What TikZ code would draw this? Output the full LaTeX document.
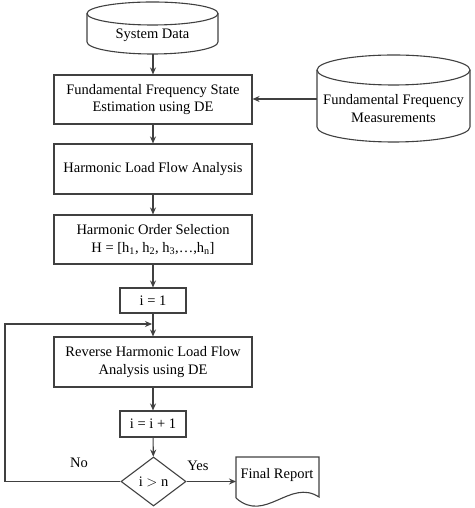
\documentclass[tikz,border=0pt]{standalone}
\usepackage{fontspec}
\setmainfont{Liberation Serif}
\usetikzlibrary{arrows.meta,shapes.geometric}
\definecolor{ln}{HTML}{404040}
\begin{document}
\begin{tikzpicture}[x=1pt,y=1pt,
  every node/.style={font=\fontsize{14.5}{17.5}\selectfont, text=black},
  proc/.style={draw=ln, line width=1.1pt, rectangle, inner sep=0pt, align=center},
  lbl/.style={align=center, inner sep=0pt},
  arr/.style={draw=ln, line width=1.1pt, -{Stealth[length=7pt,width=6pt]}},
  ln/.style={draw=ln, line width=1.1pt}]
\useasboundingbox (0,0) rectangle (474,508);
% System Data cylinder
\draw[ln] (152.5,494.5) ellipse[x radius=65.5, y radius=11.5];
\draw[ln] (87,494.5) -- (87,466) arc[start angle=180, end angle=360, x radius=65.5, y radius=12] -- (218,494.5);
\node[lbl] (sd) at (152.5,473) {System Data};
\coordinate (sdb) at (153,454);
% Measurements cylinder
\draw[ln] (393.5,438) ellipse[x radius=76.5, y radius=15];
\draw[ln] (317,438) -- (317,381) arc[start angle=180, end angle=360, x radius=76.5, y radius=15] -- (470,438);
\node[lbl] (meas) at (393.5,399.5) {Fundamental Frequency\\Measurements};
\coordinate (measl) at (317,409);
% boxes
\node[proc, minimum width=198pt, minimum height=49pt] (b1) at (153,408.5) {Fundamental Frequency State\\Estimation using DE};
\node[proc, minimum width=198pt, minimum height=50pt] (b2) at (153,339) {Harmonic Load Flow Analysis};
\node[proc, minimum width=198pt, minimum height=49pt] (b3) at (153,268.5) {Harmonic Order Selection\\H = [h\textsubscript{1}, h\textsubscript{2}, h\textsubscript{3},\dots,h\textsubscript{n}]};
\node[proc, minimum width=66pt, minimum height=25pt] (i1) at (153,207.5) {i = 1};
\node[proc, minimum width=198pt, minimum height=50pt] (b4) at (153,146) {Reverse Harmonic Load Flow\\Analysis using DE};
\node[proc, minimum width=66pt, minimum height=26pt] (inc) at (153,84) {i = i + 1};
\node[draw=ln, line width=1.1pt, diamond, inner sep=0pt, minimum width=65pt, minimum height=49pt] (dec) at (153.5,26.5) {i $>$ n};
% Final report document
\draw[ln] (236,10) -- (236,51) -- (319,51) -- (319,11) .. controls (290,30) and (265,-16) .. (236,10);
\node[lbl] (fr) at (277,33) {Final Report};
\coordinate (frl) at (236,26.5);
% connectors
\draw[arr] (sdb) -- (b1.north);
\draw[arr] (measl) -- (b1.east |- measl);
\draw[arr] (b1) -- (b2);
\draw[arr] (b2) -- (b3);
\draw[arr] (b3) -- (i1);
\draw[arr] (i1) -- (b4);
\draw[arr] (b4) -- (inc);
\draw[arr] (inc) -- (dec);
\draw[arr] (dec.east) -- (frl);
\coordinate (lc1) at (5,26.5);
\coordinate (lc2) at (5,184);
\coordinate (lc3) at (152,184);
\draw[arr] (dec.west) -- (lc1) -- (lc2) -- (lc3);
\node[lbl] (no) at (79,45) {No};
\node[lbl] (yes) at (198,42) {Yes};
\end{tikzpicture}
\end{document}
